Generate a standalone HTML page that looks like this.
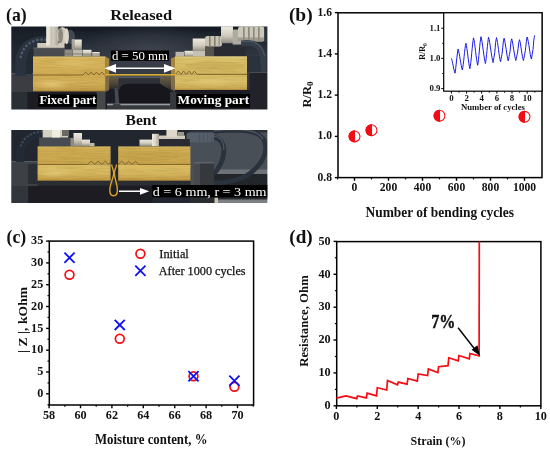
<!DOCTYPE html>
<html lang="en">
<head>
<meta charset="utf-8">
<title>Figure</title>
<style>
html,body{margin:0;padding:0;background:#fff;}
body{width:550px;height:450px;overflow:hidden;}
svg{display:block;font-family:'Liberation Serif', serif;}
</style>
</head>
<body>
<svg width="550" height="450" viewBox="0 0 550 450">
<rect width="550" height="450" fill="#ffffff"/>
<g id="panel-a">
<text x="6" y="21.3" font-size="17.8" font-weight="bold" text-anchor="start" fill="#111" textLength="20.7" lengthAdjust="spacingAndGlyphs">(a)</text>
<text x="110.2" y="20.4" font-size="15" font-weight="bold" text-anchor="start" fill="#111" textLength="61.8" lengthAdjust="spacingAndGlyphs">Released</text>
<text x="125.5" y="124.6" font-size="15" font-weight="bold" text-anchor="start" fill="#111" textLength="31.2" lengthAdjust="spacingAndGlyphs">Bent</text>
<defs>
<clipPath id="clip1"><rect x="11.3" y="26.4" width="256.1" height="83"/></clipPath>
<clipPath id="clip2"><rect x="11.3" y="130" width="256.1" height="73"/></clipPath>
<linearGradient id="bg1" x1="0" y1="0" x2="0" y2="1">
 <stop offset="0" stop-color="#141922"/><stop offset="0.12" stop-color="#20252e"/><stop offset="0.35" stop-color="#30353f"/><stop offset="0.6" stop-color="#363b45"/><stop offset="1" stop-color="#2a2d33"/>
</linearGradient>
<radialGradient id="glow1" cx="0.5" cy="0.5" r="0.5">
 <stop offset="0" stop-color="#414651" stop-opacity="0.8"/><stop offset="1" stop-color="#414651" stop-opacity="0"/>
</radialGradient>
<linearGradient id="brassT" x1="0" y1="0" x2="0" y2="1">
 <stop offset="0" stop-color="#e4cf84"/><stop offset="0.12" stop-color="#d9c06a"/><stop offset="1" stop-color="#d2b65e"/>
</linearGradient>
<linearGradient id="brassB" x1="0" y1="0" x2="0" y2="1">
 <stop offset="0" stop-color="#d5ba62"/><stop offset="0.5" stop-color="#d8be68"/><stop offset="0.9" stop-color="#c9a850"/><stop offset="1" stop-color="#a8883a"/>
</linearGradient>
<linearGradient id="brassTL" x1="0" y1="0" x2="0" y2="1">
 <stop offset="0" stop-color="#e0c676"/><stop offset="0.12" stop-color="#d6b45c"/><stop offset="1" stop-color="#cfab53"/>
</linearGradient>
<linearGradient id="brassBL" x1="0" y1="0" x2="0" y2="1">
 <stop offset="0" stop-color="#cfab53"/><stop offset="0.5" stop-color="#d1ae58"/><stop offset="0.9" stop-color="#c39d47"/><stop offset="1" stop-color="#a58236"/>
</linearGradient>
<linearGradient id="brassT2" x1="0" y1="0" x2="0" y2="1">
 <stop offset="0" stop-color="#d8bb64"/><stop offset="0.12" stop-color="#ceac53"/><stop offset="1" stop-color="#c8a54c"/>
</linearGradient>
<linearGradient id="brassB2" x1="0" y1="0" x2="0" y2="1">
 <stop offset="0" stop-color="#d9bd66"/><stop offset="0.6" stop-color="#d4b55c"/><stop offset="0.92" stop-color="#c39c46"/><stop offset="1" stop-color="#a27c33"/>
</linearGradient>
<linearGradient id="acr" x1="0" y1="0" x2="0" y2="1">
 <stop offset="0" stop-color="#6a5f48"/><stop offset="0.6" stop-color="#4c4538"/><stop offset="1" stop-color="#2a2b2e"/>
</linearGradient>
<linearGradient id="cream" x1="0" y1="0" x2="1" y2="0">
 <stop offset="0" stop-color="#efece2"/><stop offset="0.5" stop-color="#d9d4c6"/><stop offset="1" stop-color="#a9a497"/>
</linearGradient>
<linearGradient id="creamV" x1="0" y1="0" x2="0" y2="1">
 <stop offset="0" stop-color="#eeebe0"/><stop offset="0.55" stop-color="#cfcabc"/><stop offset="1" stop-color="#8f8b80"/>
</linearGradient>
<linearGradient id="cable" x1="0" y1="0" x2="1" y2="0">
 <stop offset="0" stop-color="#1c212b"/><stop offset="0.5" stop-color="#3d4655"/><stop offset="1" stop-color="#20252f"/>
</linearGradient>
<filter id="soft" x="-5%" y="-5%" width="110%" height="110%"><feGaussianBlur stdDeviation="0.4"/></filter>
<filter id="grain" x="0" y="0" width="100%" height="100%" color-interpolation-filters="sRGB">
 <feTurbulence type="fractalNoise" baseFrequency="0.05 0.8" numOctaves="3" seed="7" result="n"/>
 <feColorMatrix in="n" type="matrix" values="0 0 0 0 0.42  0 0 0 0 0.30  0 0 0 0 0.08  2.2 0 0 0 -0.95" result="d"/>
 <feColorMatrix in="n" type="matrix" values="0 0 0 0 0.98  0 0 0 0 0.90  0 0 0 0 0.62  -2.2 0 0 0 0.95" result="l"/>
 <feMerge result="m"><feMergeNode in="d"/><feMergeNode in="l"/></feMerge>
 <feComposite in="m" in2="SourceGraphic" operator="in"/>
</filter>
<radialGradient id="hl" cx="0.5" cy="0.5" r="0.5">
 <stop offset="0" stop-color="#f0d88a" stop-opacity="0.75"/><stop offset="1" stop-color="#f0d88a" stop-opacity="0"/>
</radialGradient>
</defs>
<g clip-path="url(#clip1)">
<g filter="url(#soft)">
<rect x="7" y="22" width="265" height="92" fill="#20252e"/>
<rect x="7" y="26.4" width="265" height="83" fill="url(#bg1)"/>
<ellipse cx="150" cy="50" rx="75" ry="26" fill="url(#glow1)"/>
<rect x="11.3" y="26.4" width="30" height="50" fill="#1b2029" opacity="0.6"/>
<rect x="105" y="75.5" width="71" height="35" fill="#2e3239"/>
<rect x="109" y="76" width="9.5" height="13" fill="url(#acr)"/>
<rect x="160" y="76" width="15" height="14" fill="url(#acr)"/>
<rect x="118" y="76.2" width="45" height="2" fill="#5d6168" opacity="0.8"/>
<path d="M118.5 110 L118.5 95 Q118.5 83.8 128.5 83.8 L160.2 83.8 L172.2 91.5 L175 92 L175 110 Z" fill="#13161d"/>
<path d="M105.5 89 L118.5 89 L118.5 110 L105.5 110 Z" fill="#1b1f27"/>
<path d="M114.6 88 L117.6 88 L119.5 106 L115.5 106 Z" fill="#474a52"/>
<rect x="106" y="103.6" width="69" height="2" fill="#9a9fa5"/>
<rect x="106" y="105.6" width="70" height="4" fill="#35373c"/>
<path d="M113.5 103.4 L120 103.4 L121 106 L112.5 106 Z" fill="#3c3f46"/>
<rect x="11.3" y="73" width="22" height="37" fill="#3b3e43"/>
<rect x="11.3" y="73" width="22" height="1" fill="#55585c"/>
<rect x="27" y="92" width="80" height="18" fill="#1a1c20"/>
<rect x="96.5" y="91.8" width="9" height="18" fill="#45464a"/>
<rect x="11.3" y="92" width="16" height="18" fill="#2c2f34"/>
<rect x="249.5" y="71.5" width="18" height="38" fill="#212429"/>
<rect x="249.5" y="71.5" width="18" height="1.2" fill="#5d6065"/>
<rect x="175" y="90" width="75" height="20" fill="#1c1e22"/>
<rect x="170" y="92" width="6.5" height="18" fill="#35373c"/>
<rect x="247" y="56" width="21" height="16" fill="#2c313b"/>
<path d="M47 42 C 33 40, 23 47, 21 60 L 20.5 76" fill="none" stroke="#2c3340" stroke-width="11" stroke-linecap="butt"/>
<path d="M47 40 C 33 38, 23 45, 20.5 58" fill="none" stroke="#5b6475" stroke-width="2.2" stroke-dasharray="2.4 1.8" opacity="0.85"/>
<path d="M33 50 C 30 55, 29 62, 29 74" fill="none" stroke="#232932" stroke-width="6"/>
<rect x="33.6" y="47.6" width="31" height="8.6" fill="#484b50"/>
<rect x="33.6" y="47.6" width="31" height="1" fill="#5e6165"/>
<rect x="37.3" y="43" width="27.2" height="4.8" fill="#cfc9b9"/>
<rect x="46.2" y="26" width="12.2" height="19.5" fill="url(#cream)"/>
<rect x="50.5" y="26" width="2" height="19.5" fill="#b9b4a6" opacity="0.7"/>
<ellipse cx="62.5" cy="35.5" rx="5.5" ry="8.6" fill="#cfc9b9"/>
<ellipse cx="60.6" cy="35.5" rx="2.4" ry="7.6" fill="#8d887b"/>
<ellipse cx="70.3" cy="36.8" rx="4.6" ry="7" fill="#414855"/>
<ellipse cx="66.6" cy="36.3" rx="2.3" ry="8" fill="#ddd8ca"/>
<rect x="71.8" y="39.5" width="10" height="10" fill="url(#creamV)"/>
<rect x="71.8" y="39.5" width="3" height="10" fill="#9c988b" opacity="0.8"/>
<rect x="64.5" y="49.5" width="7.5" height="6.8" fill="#8f8c81"/>
<rect x="72.5" y="49.5" width="9.5" height="6.8" fill="#bdb9ac"/>
<rect x="82.5" y="49.8" width="9" height="6.5" fill="url(#creamV)"/>
<rect x="92.2" y="52" width="7.5" height="4.3" fill="url(#creamV)"/>
<rect x="64.5" y="53.5" width="35.5" height="1" fill="#6b685f" opacity="0.7"/>
<rect x="213.6" y="45.8" width="32" height="10.6" fill="#2a2c33"/>
<rect x="232" y="41.5" width="13.5" height="5" fill="#2f3239"/>
<rect x="175.5" y="51.8" width="8.5" height="4.6" fill="#bab6a9"/>
<rect x="184.5" y="50.8" width="8.5" height="5.6" fill="url(#creamV)"/>
<rect x="192.7" y="38.5" width="12.8" height="13" fill="url(#creamV)"/>
<rect x="193" y="51" width="17" height="5.4" fill="#c4c0b3"/>
<rect x="205" y="47" width="9" height="9.4" fill="#55534e"/>
<rect x="205" y="36" width="17" height="10.6" rx="2.5" fill="#c8c3b4"/>
<rect x="209" y="36" width="1.6" height="10.6" fill="#857f70"/><rect x="214" y="36" width="1.6" height="10.6" fill="#857f70"/><rect x="218.5" y="36" width="1.4" height="10.6" fill="#9a9486"/>
<rect x="221" y="26.4" width="12" height="16.8" fill="url(#creamV)"/>
<rect x="232.7" y="29.5" width="8.5" height="15" fill="#aeaba2"/>
<rect x="238" y="26.4" width="26.5" height="15" rx="2.5" fill="#cbc7b9"/>
<rect x="243" y="26.4" width="1.6" height="15" fill="#8a877b"/><rect x="248" y="26.4" width="1.6" height="15" fill="#8a877b"/><rect x="253" y="26.4" width="1.6" height="15" fill="#8a877b"/><rect x="258" y="26.4" width="1.6" height="15" fill="#8a877b"/>
<rect x="238" y="37.5" width="26.5" height="3.9" fill="#8e8a7e" opacity="0.7"/>
<rect x="264.3" y="26.4" width="4" height="16" fill="#2b313b"/>
<path d="M241.5 43.2 C 254 41.5, 261.5 46, 263 57 L 263.8 72" fill="none" stroke="#343d4a" stroke-width="5.6"/>
<path d="M242 41.6 C 254 40, 262.5 44.5, 264.6 56" fill="none" stroke="#56606e" stroke-width="1.1" opacity="0.8"/>
<rect x="33.0" y="56.4" width="72.6" height="18.6" fill="url(#brassTL)"/>
<rect x="33.0" y="75" width="72.6" height="16.400000000000006" fill="url(#brassBL)"/>
<rect x="33.0" y="56.4" width="72.6" height="35.00000000000001" fill="#000" filter="url(#grain)" opacity="0.13"/>
<path d="M33.0 75 L83 75 L85.7 72.1 L88.4 75 L91.1 72.1 L93.8 75 L96.5 72.1 L99.2 75 L101.9 72.1 L104.5 75 L105.6 75" fill="none" stroke="#82652a" stroke-width="1.0" stroke-linejoin="round"/>
<path d="M105.6 56.8 L109.2 58.5 L109.2 75 L105.6 75 Z" fill="#a9843a"/>
<path d="M105.6 75.6 L109.2 75.6 L109.2 90 L105.6 92 Z" fill="#8c7446" opacity="0.85"/>
<rect x="175" y="56.3" width="72" height="18.0" fill="url(#brassT)"/>
<rect x="175" y="74.3" width="72" height="15.700000000000003" fill="url(#brassB)"/>
<rect x="175" y="56.3" width="72" height="33.7" fill="#000" filter="url(#grain)" opacity="0.13"/>
<path d="M175 74.3 L175.5 74.3 L178.2 71.1 L180.9 74.3 L183.6 71.1 L186.3 74.3 L189.0 71.1 L191.7 74.3 L194.4 71.1 L197.0 74.3 L247 74.3" fill="none" stroke="#82652a" stroke-width="1.0" stroke-linejoin="round"/>
<path d="M175 56.8 L171 58.5 L171 75 L175 75 Z" fill="#a9843a"/>
<path d="M175 75.6 L171 75.6 L171 89 L175 91 Z" fill="#8c7446" opacity="0.85"/>
<ellipse cx="52" cy="84.5" rx="19" ry="6" fill="url(#hl)" opacity="0.75"/>
<ellipse cx="75" cy="64" rx="30" ry="6" fill="url(#hl)" opacity="0.35"/>
<ellipse cx="213" cy="82.5" rx="28" ry="5.5" fill="url(#hl)" opacity="0.5"/>
<ellipse cx="215" cy="66" rx="30" ry="4" fill="#a98538" opacity="0.18"/>
<rect x="105" y="74.1" width="71" height="1.5" fill="#e6b532"/>
</g>
<line x1="112" y1="68.3" x2="168" y2="68.3" stroke="#fff" stroke-width="1.6"/>
<path d="M104.4 68.3 L116 63.9 L116 72.7 Z" fill="#fff"/>
<path d="M175.6 68.3 L164 63.9 L164 72.7 Z" fill="#fff"/>
<rect x="110.9" y="50.5" width="58.2" height="10.3" fill="#000"/>
<text x="111.9" y="59.8" font-size="12.4" font-weight="normal" text-anchor="start" fill="#fff" textLength="56.1" lengthAdjust="spacingAndGlyphs">d = 50 mm</text>
<rect x="38.4" y="94.5" width="58.5" height="12.3" fill="#000"/>
<text x="39.5" y="103.9" font-size="12.6" font-weight="bold" text-anchor="start" fill="#fff" textLength="56.7" lengthAdjust="spacingAndGlyphs">Fixed part</text>
<rect x="176.4" y="94.1" width="73.6" height="13.4" fill="#000"/>
<text x="177.6" y="104.1" font-size="12.6" font-weight="bold" text-anchor="start" fill="#fff" textLength="71.5" lengthAdjust="spacingAndGlyphs">Moving part</text>
</g>
<g clip-path="url(#clip2)">
<g filter="url(#soft)">
<rect x="7" y="126" width="265" height="82" fill="#20252e"/>
<rect x="190" y="130" width="78" height="73" fill="#4a4f57"/>
<rect x="190" y="130" width="78" height="2.5" fill="#2b3039"/>
<rect x="214" y="169.5" width="54" height="4.5" fill="#6d7278"/>
<rect x="214" y="174" width="54" height="11" fill="#24272c"/>
<rect x="190" y="185" width="78" height="18" fill="#2a2d31"/>
<rect x="216" y="199.5" width="52" height="4" fill="#7b7f84"/>
<rect x="214.5" y="197.5" width="3.5" height="6" fill="#c9c4b6"/>
<path d="M213 137.5 C 222 138, 225 146, 223.5 155 C 222.5 162, 219 168, 214 174" fill="none" stroke="#2c323d" stroke-width="4.8"/>
<path d="M214 131.5 C 235 129, 258 129, 264 140 C 269 152, 262 166, 246 176 C 236 181, 225 183, 214 183" fill="none" stroke="#2c323d" stroke-width="4.6"/>
<path d="M214 130.6 C 235 128.2, 257 128.5, 263 139" fill="none" stroke="#56606e" stroke-width="1.2" opacity="0.8"/>
<path d="M214 136.3 C 221 136.8, 224 142, 223.8 150" fill="none" stroke="#56606e" stroke-width="1.2" opacity="0.8"/>
<rect x="186.5" y="132.5" width="27.5" height="9.8" rx="2" fill="#555e6b"/>
<rect x="199" y="132.5" width="1.2" height="9.8" fill="#4c5562"/><rect x="203" y="132.5" width="1.2" height="9.8" fill="#4c5562"/><rect x="207" y="132.5" width="1.2" height="9.8" fill="#4c5562"/><rect x="211" y="132.5" width="1.2" height="9.8" fill="#4c5562"/>
<rect x="194" y="162.2" width="20" height="23" fill="#34373d"/>
<rect x="194" y="162.2" width="6" height="23" fill="#46494e"/>
<rect x="194" y="162.2" width="20" height="1.2" fill="#6a6d72"/>
<rect x="11.3" y="161" width="26.5" height="42" fill="#3c3f45"/>
<rect x="11.3" y="161" width="26.5" height="1.2" fill="#565a5f"/>
<rect x="28" y="164" width="10" height="20" fill="#2c2f34"/>
<rect x="11.3" y="186" width="141" height="17" fill="#1b1d22"/>
<rect x="11.3" y="186" width="17" height="17" fill="#33363b"/>
<rect x="37.6" y="181" width="153" height="4.5" fill="#2a2d32"/>
<path d="M44 133.5 C 30 134, 21 142, 20 152 L 20 162" fill="none" stroke="#232a35" stroke-width="8.5"/>
<path d="M43 131.5 C 30 132, 22 139, 20.5 148" fill="none" stroke="#4d5666" stroke-width="1.8" stroke-dasharray="2.2 1.6" opacity="0.75"/>
<rect x="39.1" y="137.5" width="31.3" height="8.9" fill="#484b52"/>
<rect x="42.7" y="130" width="25.5" height="7.5" fill="#d5d0c2"/>
<rect x="52" y="130" width="8" height="7.5" fill="#efece2"/>
<rect x="62" y="130" width="7" height="6" fill="#6b6a63"/>
<rect x="73.5" y="133" width="8.5" height="13.2" fill="url(#creamV)"/>
<rect x="70.4" y="138" width="3.5" height="8.2" fill="#8f8c81"/>
<rect x="82" y="139.6" width="8" height="6.6" fill="url(#creamV)"/>
<rect x="90" y="143" width="4.5" height="3.2" fill="#bdb9ab"/>
<rect x="158.4" y="139" width="31.3" height="7.3" fill="#292c34"/>
<rect x="139.5" y="139.6" width="12.5" height="6.6" fill="url(#creamV)"/>
<rect x="152" y="133.8" width="7" height="12.4" fill="url(#cream)"/>
<rect x="159" y="135.5" width="26" height="3.5" fill="#cdc8ba"/>
<rect x="166.4" y="130" width="11" height="7" fill="#ddd8ca"/>
<rect x="178" y="132" width="6" height="4" fill="#9b978b"/>
<rect x="37.6" y="146.4" width="73.0" height="18.0" fill="url(#brassT2)"/>
<rect x="37.6" y="164.4" width="73.0" height="16.400000000000006" fill="url(#brassB2)"/>
<rect x="37.6" y="146.4" width="73.0" height="34.400000000000006" fill="#000" filter="url(#grain)" opacity="0.13"/>
<path d="M37.6 164.4 L87.7 164.4 L91.2 161.2 L94.7 164.4 L98.2 161.2 L101.7 164.4 L105.2 161.2 L108.7 164.4 L110.6 161.2 L110.6 164.4" fill="none" stroke="#82652a" stroke-width="1.0" stroke-linejoin="round"/>
<rect x="118.2" y="146.4" width="72.2" height="18.0" fill="url(#brassT2)"/>
<rect x="118.2" y="164.4" width="72.2" height="16.400000000000006" fill="url(#brassB2)"/>
<rect x="118.2" y="146.4" width="72.2" height="34.400000000000006" fill="#000" filter="url(#grain)" opacity="0.13"/>
<path d="M118.2 164.4 L118.2 164.4 L121.7 161.2 L125.2 164.4 L128.7 161.2 L132.2 164.4 L135.7 161.2 L138.5 164.4 L190.4 164.4" fill="none" stroke="#82652a" stroke-width="1.0" stroke-linejoin="round"/>
<rect x="118.2" y="165" width="72.2" height="3" fill="#dcb95f" opacity="0.55"/>
<ellipse cx="55" cy="172.5" rx="20" ry="6" fill="url(#hl)" opacity="0.6"/>
<ellipse cx="150" cy="156" rx="30" ry="5" fill="#a98538" opacity="0.16"/>
<path d="M111.6 164.5 C 112.2 168, 113.6 170, 113.7 173 C 113.7 178, 109.8 184, 109.8 190 C 109.8 194, 111.5 195.8, 113.6 195.8 C 115.8 195.8, 117.4 194, 117.4 190 C 117.4 184, 114.3 178, 114.4 173 C 114.5 170, 116 168, 116.6 164.5" fill="none" stroke="#d9a32c" stroke-width="1.4"/>
</g>
<line x1="119" y1="191.3" x2="142" y2="191.3" stroke="#fff" stroke-width="1.4"/>
<path d="M149.3 191.3 L140 187.9 L140 194.7 Z" fill="#fff"/>
<rect x="152.2" y="185" width="115.6" height="12.4" fill="#000"/>
<text x="152.8" y="195.5" font-size="13.3" font-weight="normal" text-anchor="start" fill="#fff" textLength="113.8" lengthAdjust="spacingAndGlyphs">d = 6 mm, r = 3 mm</text>
</g>
</g>
<g id="panel-b">
<text x="288.9" y="21.3" font-size="17.8" font-weight="bold" text-anchor="start" fill="#111" textLength="23.8" lengthAdjust="spacingAndGlyphs">(b)</text>
<rect x="338.0" y="12.8" width="204.0" height="164.79999999999998" fill="none" stroke="#000" stroke-width="1.5"/>
<line x1="334.8" y1="177.6" x2="338.0" y2="177.6" stroke="#000" stroke-width="1.4"/>
<text x="332.0" y="180.6" font-size="11.6" font-weight="bold" text-anchor="end" fill="#111">0.8</text>
<line x1="334.8" y1="136.4" x2="338.0" y2="136.4" stroke="#000" stroke-width="1.4"/>
<text x="332.0" y="139.36" font-size="11.6" font-weight="bold" text-anchor="end" fill="#111">1.0</text>
<line x1="334.8" y1="95.1" x2="338.0" y2="95.1" stroke="#000" stroke-width="1.4"/>
<text x="332.0" y="98.12000000000002" font-size="11.6" font-weight="bold" text-anchor="end" fill="#111">1.2</text>
<line x1="334.8" y1="53.9" x2="338.0" y2="53.9" stroke="#000" stroke-width="1.4"/>
<text x="332.0" y="56.880000000000024" font-size="11.6" font-weight="bold" text-anchor="end" fill="#111">1.4</text>
<line x1="334.8" y1="12.6" x2="338.0" y2="12.6" stroke="#000" stroke-width="1.4"/>
<text x="332.0" y="15.639999999999986" font-size="11.6" font-weight="bold" text-anchor="end" fill="#111">1.6</text>
<line x1="354.5" y1="177.6" x2="354.5" y2="180.79999999999998" stroke="#000" stroke-width="1.4"/>
<text x="354.5" y="191.4" font-size="11.6" font-weight="bold" text-anchor="middle" fill="#111">0</text>
<line x1="388.5" y1="177.6" x2="388.5" y2="180.79999999999998" stroke="#000" stroke-width="1.4"/>
<text x="388.5" y="191.4" font-size="11.6" font-weight="bold" text-anchor="middle" fill="#111">200</text>
<line x1="422.5" y1="177.6" x2="422.5" y2="180.79999999999998" stroke="#000" stroke-width="1.4"/>
<text x="422.5" y="191.4" font-size="11.6" font-weight="bold" text-anchor="middle" fill="#111">400</text>
<line x1="456.5" y1="177.6" x2="456.5" y2="180.79999999999998" stroke="#000" stroke-width="1.4"/>
<text x="456.5" y="191.4" font-size="11.6" font-weight="bold" text-anchor="middle" fill="#111">600</text>
<line x1="490.5" y1="177.6" x2="490.5" y2="180.79999999999998" stroke="#000" stroke-width="1.4"/>
<text x="490.5" y="191.4" font-size="11.6" font-weight="bold" text-anchor="middle" fill="#111">800</text>
<line x1="524.5" y1="177.6" x2="524.5" y2="180.79999999999998" stroke="#000" stroke-width="1.4"/>
<text x="524.5" y="191.4" font-size="11.6" font-weight="bold" text-anchor="middle" fill="#111">1000</text>
<line x1="337.5" y1="177.6" x2="337.5" y2="179.4" stroke="#000" stroke-width="1.2"/>
<line x1="371.5" y1="177.6" x2="371.5" y2="179.4" stroke="#000" stroke-width="1.2"/>
<line x1="405.5" y1="177.6" x2="405.5" y2="179.4" stroke="#000" stroke-width="1.2"/>
<line x1="439.5" y1="177.6" x2="439.5" y2="179.4" stroke="#000" stroke-width="1.2"/>
<line x1="473.5" y1="177.6" x2="473.5" y2="179.4" stroke="#000" stroke-width="1.2"/>
<line x1="507.5" y1="177.6" x2="507.5" y2="179.4" stroke="#000" stroke-width="1.2"/>
<text x="365.5" y="216.9" font-size="13.8" font-weight="bold" text-anchor="start" fill="#111" textLength="148.5" lengthAdjust="spacingAndGlyphs">Number of bending cycles</text>
<text transform="translate(310.5,94.5) rotate(-90)" font-size="12.6" font-weight="bold" text-anchor="middle" fill="#111">R/R<tspan font-size="9" dy="2.5">0</tspan></text>
<circle cx="354.5" cy="136.4" r="5.45" fill="#fff" stroke="#f20d14" stroke-width="1.1"/>
<path d="M354.5 130.9 A5.45 5.45 0 0 0 354.5 141.8 Z" fill="#f20d14" stroke="#f20d14" stroke-width="1.1"/>
<circle cx="371.5" cy="130.2" r="5.45" fill="#fff" stroke="#f20d14" stroke-width="1.1"/>
<path d="M371.5 124.7 A5.45 5.45 0 0 0 371.5 135.6 Z" fill="#f20d14" stroke="#f20d14" stroke-width="1.1"/>
<circle cx="439.5" cy="115.7" r="5.45" fill="#fff" stroke="#f20d14" stroke-width="1.1"/>
<path d="M439.5 110.3 A5.45 5.45 0 0 0 439.5 121.2 Z" fill="#f20d14" stroke="#f20d14" stroke-width="1.1"/>
<circle cx="524.5" cy="116.8" r="5.45" fill="#fff" stroke="#f20d14" stroke-width="1.1"/>
<path d="M524.5 111.3 A5.45 5.45 0 0 0 524.5 122.2 Z" fill="#f20d14" stroke="#f20d14" stroke-width="1.1"/>
<rect x="443.7" y="12.8" width="98.30000000000001" height="78.4" fill="#fff" stroke="#000" stroke-width="1.2"/>
<line x1="441.3" y1="88.6" x2="443.7" y2="88.6" stroke="#000" stroke-width="1"/>
<text x="440.5" y="91.19999999999999" font-size="8.8" font-weight="bold" text-anchor="end" fill="#111">0.9</text>
<line x1="441.3" y1="58.4" x2="443.7" y2="58.4" stroke="#000" stroke-width="1"/>
<text x="440.5" y="61.0" font-size="8.8" font-weight="bold" text-anchor="end" fill="#111">1.0</text>
<line x1="441.3" y1="28.2" x2="443.7" y2="28.2" stroke="#000" stroke-width="1"/>
<text x="440.5" y="30.799999999999972" font-size="8.8" font-weight="bold" text-anchor="end" fill="#111">1.1</text>
<line x1="442.2" y1="73.5" x2="443.7" y2="73.5" stroke="#000" stroke-width="0.9"/>
<line x1="442.2" y1="43.3" x2="443.7" y2="43.3" stroke="#000" stroke-width="0.9"/>
<line x1="451.4" y1="91.2" x2="451.4" y2="93.60000000000001" stroke="#000" stroke-width="1"/>
<text x="451.4" y="101.4" font-size="8.8" font-weight="bold" text-anchor="middle" fill="#111">0</text>
<line x1="466.6" y1="91.2" x2="466.6" y2="93.60000000000001" stroke="#000" stroke-width="1"/>
<text x="466.6" y="101.4" font-size="8.8" font-weight="bold" text-anchor="middle" fill="#111">2</text>
<line x1="481.7" y1="91.2" x2="481.7" y2="93.60000000000001" stroke="#000" stroke-width="1"/>
<text x="481.7" y="101.4" font-size="8.8" font-weight="bold" text-anchor="middle" fill="#111">4</text>
<line x1="496.9" y1="91.2" x2="496.9" y2="93.60000000000001" stroke="#000" stroke-width="1"/>
<text x="496.9" y="101.4" font-size="8.8" font-weight="bold" text-anchor="middle" fill="#111">6</text>
<line x1="512.0" y1="91.2" x2="512.0" y2="93.60000000000001" stroke="#000" stroke-width="1"/>
<text x="512.0" y="101.4" font-size="8.8" font-weight="bold" text-anchor="middle" fill="#111">8</text>
<line x1="527.2" y1="91.2" x2="527.2" y2="93.60000000000001" stroke="#000" stroke-width="1"/>
<text x="527.2" y="101.4" font-size="8.8" font-weight="bold" text-anchor="middle" fill="#111">10</text>
<line x1="459.0" y1="91.2" x2="459.0" y2="92.7" stroke="#000" stroke-width="0.9"/>
<line x1="474.1" y1="91.2" x2="474.1" y2="92.7" stroke="#000" stroke-width="0.9"/>
<line x1="489.3" y1="91.2" x2="489.3" y2="92.7" stroke="#000" stroke-width="0.9"/>
<line x1="504.5" y1="91.2" x2="504.5" y2="92.7" stroke="#000" stroke-width="0.9"/>
<line x1="519.6" y1="91.2" x2="519.6" y2="92.7" stroke="#000" stroke-width="0.9"/>
<line x1="534.8" y1="91.2" x2="534.8" y2="92.7" stroke="#000" stroke-width="0.9"/>
<text x="461" y="109.6" font-size="8.8" font-weight="bold" text-anchor="start" fill="#111" textLength="64" lengthAdjust="spacingAndGlyphs">Number of cycles</text>
<text transform="translate(425,51.5) rotate(-90)" font-size="8" font-weight="bold" text-anchor="middle" fill="#111">R/R<tspan font-size="5.5" dy="1.5">0</tspan></text>
<polyline fill="none" stroke="#1a1ae6" stroke-width="1.0" stroke-linejoin="round" points="451.4,58.4 451.8,59.7 452.3,61.4 452.7,63.5 453.2,65.8 453.6,68.1 454.1,70.2 454.5,71.9 455.0,73.2 455.4,71.1 455.7,68.3 456.1,64.9 456.5,61.1 456.9,57.4 457.3,54.0 457.7,51.1 458.1,49.0 458.6,50.8 459.1,53.3 459.7,56.2 460.2,59.5 460.7,62.7 461.3,65.6 461.8,68.1 462.3,69.9 462.8,67.6 463.2,64.5 463.7,60.7 464.1,56.6 464.5,52.5 465.0,48.7 465.4,45.6 465.9,43.3 466.4,45.5 466.9,48.5 467.4,52.1 467.9,56.0 468.4,59.9 468.9,63.5 469.4,66.5 469.9,68.7 470.3,66.0 470.8,62.4 471.3,58.0 471.7,53.3 472.2,48.5 472.6,44.1 473.1,40.5 473.5,37.9 474.1,40.2 474.6,43.5 475.1,47.3 475.6,51.6 476.1,55.9 476.7,59.8 477.2,63.0 477.7,65.3 478.1,62.9 478.5,59.5 478.9,55.4 479.3,51.0 479.7,46.6 480.1,42.5 480.6,39.1 481.0,36.7 481.5,39.0 482.1,42.1 482.6,45.9 483.2,50.1 483.8,54.3 484.3,58.1 484.9,61.2 485.4,63.5 485.8,61.3 486.2,58.2 486.6,54.5 487.0,50.4 487.4,46.3 487.8,42.6 488.2,39.5 488.5,37.3 489.1,39.4 489.7,42.4 490.2,46.0 490.8,49.9 491.4,53.9 492.0,57.5 492.5,60.4 493.1,62.6 493.5,60.5 493.9,57.5 494.4,55.0 494.8,52.2 495.2,47.8 495.6,42.7 496.1,39.7 496.5,37.6 497.0,39.6 497.5,42.5 498.0,45.9 498.5,49.6 499.0,53.4 499.5,56.8 500.0,59.6 500.5,61.7 501.0,59.7 501.4,56.9 501.9,54.6 502.3,52.0 502.7,47.9 503.2,43.0 503.6,40.2 504.1,38.2 504.6,40.1 505.1,42.8 505.6,46.0 506.2,49.5 506.7,53.0 507.2,56.2 507.7,58.9 508.2,60.8 508.7,58.9 509.1,56.3 509.5,54.3 510.0,51.9 510.4,48.0 510.8,43.3 511.2,40.7 511.7,38.8 512.2,40.6 512.7,43.2 513.2,46.3 513.7,49.6 514.3,53.0 514.8,56.1 515.3,58.6 515.8,60.5 516.3,58.7 516.7,56.3 517.2,54.4 517.6,52.2 518.1,48.5 518.6,43.9 519.0,41.5 519.5,39.7 520.0,41.5 520.5,43.9 520.9,46.9 521.4,50.1 521.9,53.3 522.4,56.3 522.9,58.7 523.4,60.5 523.9,58.5 524.4,55.7 524.8,53.4 525.3,50.8 525.8,46.7 526.3,41.7 526.7,39.0 527.2,37.0 527.7,38.9 528.2,41.4 528.8,44.6 529.3,48.0 529.8,51.4 530.3,54.5 530.8,57.1 531.4,59.0 531.8,57.0 532.2,54.2 532.6,51.9 533.0,49.3 533.4,45.2 533.8,40.2 534.2,37.5 534.6,35.4"/>
</g>
<g id="panel-c">
<text x="6.5" y="243" font-size="17.8" font-weight="bold" text-anchor="start" fill="#111" textLength="19.7" lengthAdjust="spacingAndGlyphs">(c)</text>
<rect x="49.3" y="241.1" width="204.3" height="163.9" fill="none" stroke="#000" stroke-width="1.5"/>
<line x1="46.099999999999994" y1="393.8" x2="49.3" y2="393.8" stroke="#000" stroke-width="1.4"/>
<text x="43.3" y="397.1" font-size="12.2" font-weight="bold" text-anchor="end" fill="#111">0</text>
<line x1="46.099999999999994" y1="372.0" x2="49.3" y2="372.0" stroke="#000" stroke-width="1.4"/>
<text x="43.3" y="375.285" font-size="12.2" font-weight="bold" text-anchor="end" fill="#111">5</text>
<line x1="46.099999999999994" y1="350.2" x2="49.3" y2="350.2" stroke="#000" stroke-width="1.4"/>
<text x="43.3" y="353.47" font-size="12.2" font-weight="bold" text-anchor="end" fill="#111">10</text>
<line x1="46.099999999999994" y1="328.4" x2="49.3" y2="328.4" stroke="#000" stroke-width="1.4"/>
<text x="43.3" y="331.65500000000003" font-size="12.2" font-weight="bold" text-anchor="end" fill="#111">15</text>
<line x1="46.099999999999994" y1="306.5" x2="49.3" y2="306.5" stroke="#000" stroke-width="1.4"/>
<text x="43.3" y="309.84000000000003" font-size="12.2" font-weight="bold" text-anchor="end" fill="#111">20</text>
<line x1="46.099999999999994" y1="284.7" x2="49.3" y2="284.7" stroke="#000" stroke-width="1.4"/>
<text x="43.3" y="288.02500000000003" font-size="12.2" font-weight="bold" text-anchor="end" fill="#111">25</text>
<line x1="46.099999999999994" y1="262.9" x2="49.3" y2="262.9" stroke="#000" stroke-width="1.4"/>
<text x="43.3" y="266.21" font-size="12.2" font-weight="bold" text-anchor="end" fill="#111">30</text>
<line x1="46.099999999999994" y1="241.1" x2="49.3" y2="241.1" stroke="#000" stroke-width="1.4"/>
<text x="43.3" y="244.395" font-size="12.2" font-weight="bold" text-anchor="end" fill="#111">35</text>
<line x1="47.5" y1="404.7" x2="49.3" y2="404.7" stroke="#000" stroke-width="1.2"/>
<line x1="47.5" y1="382.9" x2="49.3" y2="382.9" stroke="#000" stroke-width="1.2"/>
<line x1="47.5" y1="361.1" x2="49.3" y2="361.1" stroke="#000" stroke-width="1.2"/>
<line x1="47.5" y1="339.3" x2="49.3" y2="339.3" stroke="#000" stroke-width="1.2"/>
<line x1="47.5" y1="317.4" x2="49.3" y2="317.4" stroke="#000" stroke-width="1.2"/>
<line x1="47.5" y1="295.6" x2="49.3" y2="295.6" stroke="#000" stroke-width="1.2"/>
<line x1="47.5" y1="273.8" x2="49.3" y2="273.8" stroke="#000" stroke-width="1.2"/>
<line x1="47.5" y1="252.0" x2="49.3" y2="252.0" stroke="#000" stroke-width="1.2"/>
<line x1="49.1" y1="405.0" x2="49.1" y2="408.2" stroke="#000" stroke-width="1.4"/>
<text x="49.1" y="418.9" font-size="12.2" font-weight="bold" text-anchor="middle" fill="#111">58</text>
<line x1="80.5" y1="405.0" x2="80.5" y2="408.2" stroke="#000" stroke-width="1.4"/>
<text x="80.5" y="418.9" font-size="12.2" font-weight="bold" text-anchor="middle" fill="#111">60</text>
<line x1="111.9" y1="405.0" x2="111.9" y2="408.2" stroke="#000" stroke-width="1.4"/>
<text x="111.9" y="418.9" font-size="12.2" font-weight="bold" text-anchor="middle" fill="#111">62</text>
<line x1="143.3" y1="405.0" x2="143.3" y2="408.2" stroke="#000" stroke-width="1.4"/>
<text x="143.3" y="418.9" font-size="12.2" font-weight="bold" text-anchor="middle" fill="#111">64</text>
<line x1="174.7" y1="405.0" x2="174.7" y2="408.2" stroke="#000" stroke-width="1.4"/>
<text x="174.7" y="418.9" font-size="12.2" font-weight="bold" text-anchor="middle" fill="#111">66</text>
<line x1="206.1" y1="405.0" x2="206.1" y2="408.2" stroke="#000" stroke-width="1.4"/>
<text x="206.1" y="418.9" font-size="12.2" font-weight="bold" text-anchor="middle" fill="#111">68</text>
<line x1="237.5" y1="405.0" x2="237.5" y2="408.2" stroke="#000" stroke-width="1.4"/>
<text x="237.5" y="418.9" font-size="12.2" font-weight="bold" text-anchor="middle" fill="#111">70</text>
<line x1="64.8" y1="405.0" x2="64.8" y2="406.8" stroke="#000" stroke-width="1.2"/>
<line x1="96.2" y1="405.0" x2="96.2" y2="406.8" stroke="#000" stroke-width="1.2"/>
<line x1="127.6" y1="405.0" x2="127.6" y2="406.8" stroke="#000" stroke-width="1.2"/>
<line x1="159.0" y1="405.0" x2="159.0" y2="406.8" stroke="#000" stroke-width="1.2"/>
<line x1="190.4" y1="405.0" x2="190.4" y2="406.8" stroke="#000" stroke-width="1.2"/>
<line x1="221.8" y1="405.0" x2="221.8" y2="406.8" stroke="#000" stroke-width="1.2"/>
<line x1="253.2" y1="405.0" x2="253.2" y2="406.8" stroke="#000" stroke-width="1.2"/>
<text x="94.9" y="444.1" font-size="13.6" font-weight="bold" text-anchor="start" fill="#111" textLength="112.6" lengthAdjust="spacingAndGlyphs">Moisture content, %</text>
<text transform="translate(27,320) rotate(-90)" font-size="13.5" font-weight="bold" text-anchor="middle" fill="#111" textLength="66" lengthAdjust="spacing">| Z |, kOhm</text>
<circle cx="69.5" cy="274.7" r="4.4" fill="none" stroke="#f20d14" stroke-width="1.7"/>
<circle cx="119.8" cy="338.8" r="4.4" fill="none" stroke="#f20d14" stroke-width="1.7"/>
<circle cx="193.5" cy="376.3" r="4.4" fill="none" stroke="#f20d14" stroke-width="1.7"/>
<circle cx="234.4" cy="386.8" r="4.4" fill="none" stroke="#f20d14" stroke-width="1.7"/>
<path d="M64.4 252.6 L74.6 262.8 M64.4 262.8 L74.6 252.6" fill="none" stroke="#1010f0" stroke-width="1.8"/>
<path d="M114.7 319.8 L124.8 330.0 M114.7 330.0 L124.8 319.8" fill="none" stroke="#1010f0" stroke-width="1.8"/>
<path d="M188.4 371.2 L198.6 381.4 M188.4 381.4 L198.6 371.2" fill="none" stroke="#1010f0" stroke-width="1.8"/>
<path d="M229.3 375.6 L239.5 385.8 M229.3 385.8 L239.5 375.6" fill="none" stroke="#1010f0" stroke-width="1.8"/>
<circle cx="140.4" cy="253.7" r="4.4" fill="none" stroke="#f20d14" stroke-width="1.7"/>
<path d="M135.3 265.6 L145.5 275.8 M135.3 275.8 L145.5 265.6" fill="none" stroke="#1010f0" stroke-width="1.8"/>
<text x="159.3" y="257.7" font-size="12.5" font-weight="normal" text-anchor="start" fill="#111" stroke="#111" stroke-width="0.25" textLength="29.5" lengthAdjust="spacingAndGlyphs">Initial</text>
<text x="158.8" y="274.8" font-size="12.5" font-weight="normal" text-anchor="start" fill="#111" stroke="#111" stroke-width="0.25" textLength="86.8" lengthAdjust="spacingAndGlyphs">After 1000 cycles</text>
</g>
<g id="panel-d">
<text x="289.3" y="243.3" font-size="17.8" font-weight="bold" text-anchor="start" fill="#111" textLength="23.4" lengthAdjust="spacingAndGlyphs">(d)</text>
<rect x="336.7" y="241.6" width="204.2" height="164.20000000000002" fill="none" stroke="#000" stroke-width="1.5"/>
<line x1="333.5" y1="405.8" x2="336.7" y2="405.8" stroke="#000" stroke-width="1.4"/>
<text x="330.7" y="409.1" font-size="12.2" font-weight="bold" text-anchor="end" fill="#111">0</text>
<line x1="333.5" y1="372.9" x2="336.7" y2="372.9" stroke="#000" stroke-width="1.4"/>
<text x="330.7" y="376.22" font-size="12.2" font-weight="bold" text-anchor="end" fill="#111">10</text>
<line x1="333.5" y1="340.0" x2="336.7" y2="340.0" stroke="#000" stroke-width="1.4"/>
<text x="330.7" y="343.34000000000003" font-size="12.2" font-weight="bold" text-anchor="end" fill="#111">20</text>
<line x1="333.5" y1="307.2" x2="336.7" y2="307.2" stroke="#000" stroke-width="1.4"/>
<text x="330.7" y="310.46000000000004" font-size="12.2" font-weight="bold" text-anchor="end" fill="#111">30</text>
<line x1="333.5" y1="274.3" x2="336.7" y2="274.3" stroke="#000" stroke-width="1.4"/>
<text x="330.7" y="277.58000000000004" font-size="12.2" font-weight="bold" text-anchor="end" fill="#111">40</text>
<line x1="333.5" y1="241.4" x2="336.7" y2="241.4" stroke="#000" stroke-width="1.4"/>
<text x="330.7" y="244.70000000000005" font-size="12.2" font-weight="bold" text-anchor="end" fill="#111">50</text>
<line x1="334.9" y1="389.4" x2="336.7" y2="389.4" stroke="#000" stroke-width="1.2"/>
<line x1="334.9" y1="356.5" x2="336.7" y2="356.5" stroke="#000" stroke-width="1.2"/>
<line x1="334.9" y1="323.6" x2="336.7" y2="323.6" stroke="#000" stroke-width="1.2"/>
<line x1="334.9" y1="290.7" x2="336.7" y2="290.7" stroke="#000" stroke-width="1.2"/>
<line x1="334.9" y1="257.8" x2="336.7" y2="257.8" stroke="#000" stroke-width="1.2"/>
<line x1="336.4" y1="405.8" x2="336.4" y2="409.0" stroke="#000" stroke-width="1.4"/>
<text x="336.4" y="419.6" font-size="12.2" font-weight="bold" text-anchor="middle" fill="#111">0</text>
<line x1="377.3" y1="405.8" x2="377.3" y2="409.0" stroke="#000" stroke-width="1.4"/>
<text x="377.3" y="419.6" font-size="12.2" font-weight="bold" text-anchor="middle" fill="#111">2</text>
<line x1="418.2" y1="405.8" x2="418.2" y2="409.0" stroke="#000" stroke-width="1.4"/>
<text x="418.2" y="419.6" font-size="12.2" font-weight="bold" text-anchor="middle" fill="#111">4</text>
<line x1="459.0" y1="405.8" x2="459.0" y2="409.0" stroke="#000" stroke-width="1.4"/>
<text x="459.0" y="419.6" font-size="12.2" font-weight="bold" text-anchor="middle" fill="#111">6</text>
<line x1="499.9" y1="405.8" x2="499.9" y2="409.0" stroke="#000" stroke-width="1.4"/>
<text x="499.9" y="419.6" font-size="12.2" font-weight="bold" text-anchor="middle" fill="#111">8</text>
<line x1="540.8" y1="405.8" x2="540.8" y2="409.0" stroke="#000" stroke-width="1.4"/>
<text x="540.8" y="419.6" font-size="12.2" font-weight="bold" text-anchor="middle" fill="#111">10</text>
<line x1="356.8" y1="405.8" x2="356.8" y2="407.6" stroke="#000" stroke-width="1.2"/>
<line x1="397.7" y1="405.8" x2="397.7" y2="407.6" stroke="#000" stroke-width="1.2"/>
<line x1="438.6" y1="405.8" x2="438.6" y2="407.6" stroke="#000" stroke-width="1.2"/>
<line x1="479.5" y1="405.8" x2="479.5" y2="407.6" stroke="#000" stroke-width="1.2"/>
<line x1="520.4" y1="405.8" x2="520.4" y2="407.6" stroke="#000" stroke-width="1.2"/>
<text x="410.5" y="444.5" font-size="12.8" font-weight="bold" text-anchor="start" fill="#111" textLength="55" lengthAdjust="spacingAndGlyphs">Strain (%)</text>
<text transform="translate(308,321) rotate(-90)" font-size="13" font-weight="bold" text-anchor="middle" fill="#111" textLength="91.6" lengthAdjust="spacingAndGlyphs">Resistance, Ohm</text>
<polyline fill="none" stroke="#f80c14" stroke-width="1.7" stroke-linejoin="miter" points="336.4,398.2 346.0,395.9 356.8,398.6 357.5,395.9 366.4,397.9 367.1,393.1 376.5,395.9 377.3,387.7 386.7,390.0 387.5,380.5 397.5,384.8 398.3,382.1 407.1,384.1 407.9,378.5 417.3,381.1 418.2,373.9 427.6,375.6 428.4,369.0 437.8,372.6 438.6,366.7 448.0,365.7 448.8,357.8 458.2,360.8 459.0,355.5 469.3,358.8 469.9,353.5 479.1,355.8 479.3,241.4"/>
<text x="431.2" y="328" font-size="18.6" font-weight="bold" text-anchor="start" fill="#111" stroke="#111" stroke-width="0.45" textLength="24.2" lengthAdjust="spacingAndGlyphs">7%</text>
<line x1="458.1" y1="327.7" x2="476" y2="350.7" stroke="#000" stroke-width="1.4"/>
<path d="M479.9 355.7 L471.6 349.8 L477.5 345.2 Z" fill="#000"/>
</g>
</svg>
</body>
</html>
